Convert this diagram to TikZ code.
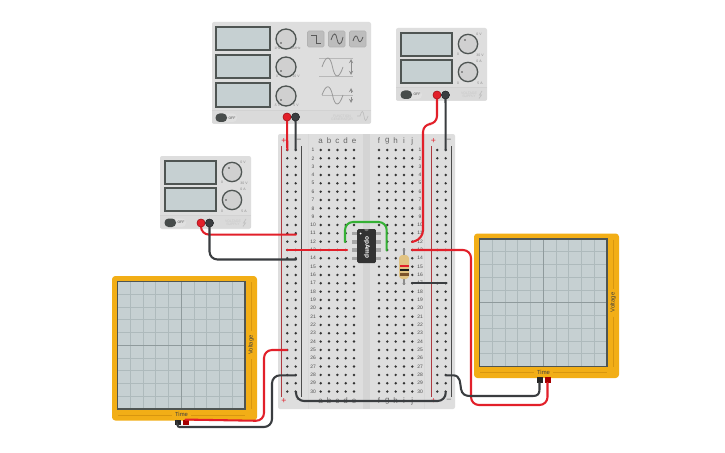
\documentclass[tikz,border=0pt]{standalone}
\usepackage{fontspec}
\setmainfont{Liberation Sans}
\usetikzlibrary{calc}
\definecolor{panel}{HTML}{DEDEDE}
\definecolor{panelb}{HTML}{D2D2D2}
\definecolor{screen}{HTML}{C6D0D2}
\definecolor{gridl}{HTML}{AEBABC}
\definecolor{gridc}{HTML}{8F9A9C}
\definecolor{frame}{HTML}{4F5553}
\definecolor{knob}{HTML}{D0D0D0}
\definecolor{wred}{HTML}{E2202A}
\definecolor{wblack}{HTML}{3A3D40}
\definecolor{wgreen}{HTML}{35B035}
\definecolor{orng}{HTML}{F2AE16}
\definecolor{orngd}{HTML}{D8960F}
\definecolor{hole}{HTML}{333333}
\definecolor{tiny}{HTML}{8A8A8A}
\tikzset{
  x=0.75pt,y=-0.75pt,
  devpanel/.style={fill=panel,draw=none,rounded corners=1.5pt},
  lcd/.style={fill=screen,draw=frame,line width=1.5pt},
  dial/.style={circle,fill=knob,draw=frame,line width=1pt,minimum size=14.5pt,inner sep=0pt},
  term/.style={circle,minimum size=6pt,inner sep=0pt,draw=#1!70!black,fill=#1,line width=.3pt},
  wire/.style={line width=1.55pt,rounded corners=6pt,line cap=round},
  lab/.style={font=\fontsize{2.6}{2.6}\selectfont,text=tiny,inner sep=0pt},
  bbnum/.style={font=\fontsize{3.7}{3.7}\selectfont,text=black!70,inner sep=0pt},
  bbletter/.style={font=\fontsize{6}{6}\selectfont,text=black!60,inner sep=0pt},
  wavebtn/.style={fill=panelb!90!black,draw=black!30,line width=.4pt,rounded corners=1pt},
}
% power supply with origin at the top-left of the panel
\newcommand{\supply}[3]{%
  \begin{scope}[shift={(#1,#2)}]
    \fill[devpanel] (0,0) rectangle (91,73);
    \fill[panelb!30!panel] (0,59) rectangle (91,72);
    \draw[panelb,line width=.4pt] (0,59) -- (91,59);
    \draw[lcd] (5,5) rectangle (56,28);
    \draw[lcd] (5,32) rectangle (56,55);
    \node[dial] (#3k1) at (72,16) {};
    \node[dial] (#3k2) at (72,44) {};
    \fill[black!70] (69,12) circle (.9);
    \fill[black!70] (66,44) circle (.9);
    \node[lab] (#3la) at (62,26) {0};
    \node[lab] (#3lb) at (84,27) {30 V};
    \node[lab] (#3lc) at (83,6) {0 V};
    \node[lab] (#3ld) at (62,55) {0};
    \node[lab] (#3le) at (84,55) {5 A};
    \node[lab] (#3lf) at (83,33) {0 A};
    \fill[black!12,rounded corners=3pt] (5,62.5) rectangle (26,71);
    \fill[frame!90!black,rounded corners=3pt] (4.5,62.5) rectangle (16,71);
    \node[lab,text=black!70] (#3off) at (21,66.8) {OFF};
    \node[lab,text=black!22,align=center] (#3v) at (73,66.5) {VOLTAGE\\[-.5pt]SUPPLY};
    \draw[black!25,line width=.5pt] (86,63) -- (83.5,67) -- (85.5,67) -- (83,70.5);
    \node[term=wred] (#3r) at (41,67) {};
    \node[term=wblack] (#3b) at (49.5,67) {};
  \end{scope}}
% oscilloscope with origin at the top-left of the orange body
\newcommand{\scopedev}[3]{%
  \begin{scope}[shift={(#1,#2)}]
    \fill[orng,rounded corners=2.5pt] (0,0) rectangle (145,144.5);
    \fill[screen] (5.5,5.5) rectangle (133,133);
    \foreach \i in {1,...,9}{
      \draw[gridl,line width=.6pt] ({5.5+\i*12.75},5.5) -- ({5.5+\i*12.75},133);
      \draw[gridl,line width=.6pt] (5.5,{5.5+\i*12.75}) -- (133,{5.5+\i*12.75});
    }
    \draw[gridc,line width=.7pt] (69.25,5.5) -- (69.25,133);
    \draw[gridc,line width=.7pt] (5.5,69.25) -- (133,69.25);
    \draw[frame,line width=1.4pt] (5.5,5.5) rectangle (133,133);
    \node[font=\fontsize{4.4}{4.4}\selectfont,text=black!75,inner sep=0pt] (#3t) at (69.5,138.5) {Time};
    \node[font=\fontsize{4.4}{4.4}\selectfont,text=black!75,inner sep=0pt,rotate=90] (#3v) at (139,69) {Voltage};
    \draw[orngd,line width=.4pt] (6,139) -- (60,139) (79,139) -- (133,139);
    \draw[orngd,line width=.4pt] (139,6) -- (139,55) (139,83) -- (139,133);
    \node[inner sep=0pt,minimum width=4.5pt,minimum height=4pt,fill=black!85] (#3b) at (65.5,146.5) {};
    \node[inner sep=0pt,minimum width=4.5pt,minimum height=4pt,fill=red!65!black] (#3r) at (73.5,146.5) {};
  \end{scope}}
\begin{document}
\begin{tikzpicture}
\useasboundingbox (0,0) rectangle (725,453);
\fill[white] (0,0) rectangle (725,453);

%%% breadboard
\fill[panel,rounded corners=1.5pt] (278,134) rectangle (455,409);
\fill[panelb!85!panel] (363,134) rectangle (370,409);
\fill[panelb!50!panel] (308,134) rectangle (309,409);
\fill[panelb!50!panel] (424,134) rectangle (425,409);
\draw[wred!70!black!85,line width=.6pt] (281,146) -- (281,397);
\draw[wred!70!black!85,line width=.6pt] (431.7,146) -- (431.7,397);
\draw[black!70,line width=.6pt] (301.3,146) -- (301.3,397);
\draw[black!70,line width=.6pt] (451.7,146) -- (451.7,397);
\foreach \r in {1,...,30}{
  \pgfmathsetmacro{\yy}{150+(\r-1)*8.33}
  \foreach \xx in {287.3,295.7,320.7,329,337.4,345.7,354,379,387.3,395.7,404,412.3,437.3,445.7}
    \fill[hole] (\xx,\yy) circle (1.35);
  \node[bbnum] (nl\r) at (313,\yy) {\r};
  \node[bbnum] (nr\r) at (420,\yy) {\r};
}
\foreach \l/\xx in {a/320.7,b/329,c/337.4,d/345.7,e/354,f/379,g/387.3,h/395.7,i/404,j/412.3}{
  \node[bbletter] (tl\l) at (\xx,141) {\l};
  \node[bbletter] (bl\l) at (\xx,401) {\l};
}
\foreach \n/\xx/\yy/\t/\c in {pa/284/141/+/wred,pb/433.5/141/+/wred,pc/284/401/+/wred,pd/433.5/401/+/wred,ma/299/141/−/black!60,mb/449/141/−/black!60,mc/299/401/−/black!60,md/449/401/−/black!60}
  \node[font=\fontsize{6.5}{6.5}\selectfont,text=\c,inner sep=0pt] (\n) at (\xx,\yy) {\t};

%%% instruments
\begin{scope}[shift={(212,22)}]
  \fill[devpanel] (0,0) rectangle (159,102);
  \fill[panelb!30!panel] (0,88) rectangle (159,101);
  \draw[panelb,line width=.4pt] (0,88) -- (159,88);
  \draw[lcd] (4,5) rectangle (57.5,28.5);
  \draw[lcd] (4,33) rectangle (57.5,56.5);
  \draw[lcd] (4,61.5) rectangle (57.5,85);
  \node[dial,minimum size=15pt] (fk1) at (74,17) {};
  \node[dial,minimum size=15pt] (fk2) at (74,45) {};
  \node[dial,minimum size=15pt] (fk3) at (74,74) {};
  \fill[black!70] (69,21) circle (.9) (69,49) circle (.9) (69,78) circle (.9);
  \node[lab] (fa) at (65.5,26.5) {1Hz};
  \node[lab] (fb) at (83,26.5) {10MHz};
  \node[lab] (fc) at (65,54.5) {0};
  \node[lab] (fd) at (84,54.5) {10 V};
  \node[lab] (fe) at (65,83) {-5 V};
  \node[lab] (ff) at (84,83) {5 V};
  \draw[wavebtn] (95.5,9) rectangle (112,25);
  \draw[wavebtn] (116.5,9) rectangle (133,25);
  \draw[wavebtn] (137.5,9) rectangle (154,25);
  \draw[black!65,line width=.6pt] (99,13) -- (104,13) -- (104,21) -- (108.5,21);
  \draw[black!65,line width=.6pt] (119,18) .. controls (122,9) and (124,11) .. (125,17) .. controls (126,23) and (129,25) .. (131,15);
  \draw[black!65,line width=.6pt,line join=round] (141,19) .. controls (143,12) and (145,13) .. (146,17) .. controls (147,21) and (149,21) .. (151,15);
  % waveform legends
  \draw[black!28,line width=.5pt] (107,36) -- (141,36) (107,54) -- (141,54);
  \draw[black!40,line width=.6pt] (110,45) .. controls (114,33) and (118,33) .. (120.5,45) .. controls (123,57) and (127,57) .. (131,45);
  \draw[black!45,line width=.4pt,<->,>=stealth] (139,37) -- (139,53);
  \draw[black!28,line width=.5pt] (110,73) -- (141,73);
  \draw[black!40,line width=.6pt] (110,73) .. controls (114,62) and (118,62) .. (120.5,73) .. controls (123,85) and (127,85) .. (131,73);
  \draw[black!45,line width=.4pt,<-,>=stealth] (139,66) -- (139,71);
  \draw[black!45,line width=.4pt,<-,>=stealth] (139,81) -- (139,75);
  \fill[black!12,rounded corners=3pt] (4,91.5) rectangle (25,100);
  \fill[frame!90!black,rounded corners=3pt] (3.5,91.5) rectangle (15,100);
  \node[lab,text=black!70] (foff) at (20,96) {OFF};
  \node[lab,text=black!22,align=center] (fv) at (130,96) {FUNCTION\\[-.5pt]GENERATOR};
  \draw[black!25,line width=.5pt] (145,94) -- (148,94) .. controls (150,88) and (151,88) .. (152,94) .. controls (153,100) and (154,100) .. (156,94);
  \node[term=wred] (fr) at (75,95) {};
  \node[term=wblack] (fbk) at (83.5,95) {};
\end{scope}
\supply{396}{28}{rs}
\supply{160}{156}{ls}
\scopedev{112}{276}{lo}
\scopedev{474}{233.5}{ro}

%%% chip and resistor
\foreach \yy in {233.5,242,250,258.5}{
  \fill[black!35] (352,\yy-1.7) rectangle (358,\yy+1.7);
  \fill[black!35] (375,\yy-1.7) rectangle (381,\yy+1.7);
}
\node[fill=black!80,minimum width=14pt,minimum height=25.5pt,inner sep=0pt,rounded corners=1pt] (amp) at (366.5,246) {};
\node[font=\fontsize{4.8}{4.8}\selectfont\bfseries,text=white,rotate=-90,inner sep=0pt] (amplab) at (367,247.5) {opAmp};
\fill[white] (360.5,233.5) circle (1);
\begin{scope}
  \clip (358,229) rectangle (376,235);
  \fill[black!55] (366.5,229) circle (2.2);
\end{scope}

\coordinate (rtop) at (404,248);
\coordinate (rbot) at (404,285);
\draw[black!45,line width=.8pt] (rtop) -- (rbot);
\fill[rounded corners=2.5pt,fill={rgb,255:red,225;green,195;blue,130}] (399,255) rectangle (409,279);
\fill[wred] (399.5,265) rectangle (408.5,267);
\fill[black!90] (399.5,268.5) rectangle (408.5,271);
\fill[brown!65!black] (399.5,273) rectangle (408.5,275.5);

%%% named wire ends on the board
\coordinate (a11) at (296,234.6);
\coordinate (a14) at (296,259.5);
\coordinate (lrail1r) at (287.3,150);
\coordinate (lrail1b) at (295.7,150);
\coordinate (rrail1b) at (445.7,150);
\coordinate (j12) at (412,242);
\coordinate (l13) at (287,250);
\coordinate (e13) at (347,250);
\coordinate (j13) at (412,250);
\coordinate (l25) at (287,350);
\coordinate (l28) at (296,375.3);
\coordinate (r28) at (445.7,375.3);
\coordinate (l30) at (296,392);
\coordinate (r30) at (445.7,392);
\coordinate (j17) at (412,283.3);
\coordinate (r17) at (446.7,283.3);
\coordinate (g1) at (345,242);
\coordinate (g2) at (386.7,250.5);

%%% wires
\draw[wire,wgreen] (g1) |- (366,222) -| (g2);
\draw[wire,wblack] (j17) -- (r17);
\draw[wire,wred] (l13) -- (e13);
\draw[wire,wred] (fr.center) -- (lrail1r);
\draw[wire,wblack] (fbk.center) -- (lrail1b);
\draw[wire,wblack] (rsb.center) -- (rrail1b);
\draw[wire,wred] (rsr.center) -- (437,124) -- (423,124) -- (423,238.5) -- (j12);
\draw[wire,wred] (lsr.center) -- (201,234.6) -- (a11);
\draw[wire,wblack] (lsb.center) -- (209.5,259.5) -- (a14);
\draw[wire,wred] (j13) -- (471,250) -- (471,405) -- (547.5,405) -- (ror.south);
\draw[line width=1.55pt,line cap=round,wblack] (r28) -- (453,375.3) .. controls (461,375.3) and (460,384) .. (461,389) .. controls (462,394) and (465,396) .. (470,396) -- (533,396) .. controls (537.5,396) and (539.5,394) .. (539.5,389.5) -- (rob.south);
\draw[wire,wred] (lor.north) -- (264,420.9) -- (264,350) -- (l25);
\draw[wire,wblack] (lob.south) [rounded corners=1.5pt] -- (177.5,427) [rounded corners=6pt] -- (272,427) -- (272,375.3) -- (l28);
\draw[wire,wblack] (l30) -- (296,401) -- (445.7,401) -- (r30);

%%% terminals on top of wires
\node[term=wred] at (fr) {};
\node[term=wblack] at (fbk) {};
\node[term=wred] at (rsr) {};
\node[term=wblack] at (rsb) {};
\node[term=wred] at (lsr) {};
\node[term=wblack] at (lsb) {};
\end{tikzpicture}
\end{document}
